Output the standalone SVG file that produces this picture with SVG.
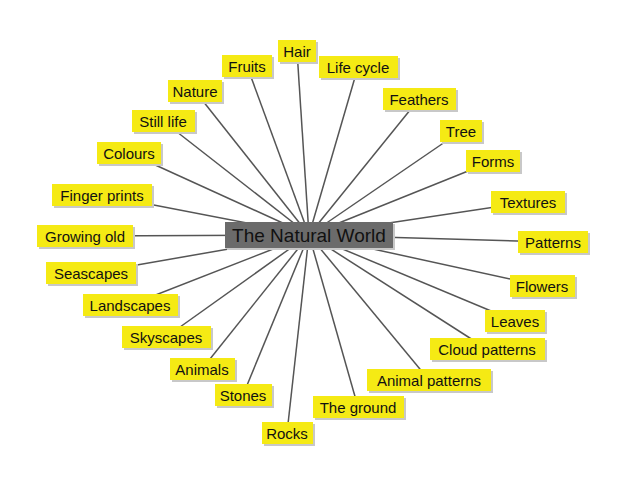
<svg xmlns="http://www.w3.org/2000/svg" width="631" height="489" viewBox="0 0 631 489">
<style>
.c line{stroke:#555;stroke-width:1.5}
.n rect{fill:#f5ea14}
.n rect.s{fill:#c8c8c8}
text{font-family:"Liberation Sans",Arial,sans-serif;font-size:15px;fill:#111;text-anchor:middle;dominant-baseline:central}
</style>
<rect width="631" height="489" fill="#fff"/>
<g class="c">
<line x1="309" y1="235" x2="297" y2="51"/>
<line x1="309" y1="235" x2="247" y2="66"/>
<line x1="309" y1="235" x2="358" y2="67"/>
<line x1="309" y1="235" x2="195" y2="91"/>
<line x1="309" y1="235" x2="419" y2="99"/>
<line x1="309" y1="235" x2="163" y2="121"/>
<line x1="309" y1="235" x2="461" y2="131"/>
<line x1="309" y1="235" x2="129" y2="153"/>
<line x1="309" y1="235" x2="493" y2="161"/>
<line x1="309" y1="235" x2="102" y2="195"/>
<line x1="309" y1="235" x2="528" y2="202"/>
<line x1="309" y1="235" x2="85" y2="236"/>
<line x1="309" y1="235" x2="553" y2="242"/>
<line x1="309" y1="235" x2="91" y2="273"/>
<line x1="309" y1="235" x2="542" y2="286"/>
<line x1="309" y1="235" x2="130" y2="305"/>
<line x1="309" y1="235" x2="515" y2="321"/>
<line x1="309" y1="235" x2="166" y2="337"/>
<line x1="309" y1="235" x2="487" y2="349"/>
<line x1="309" y1="235" x2="202" y2="369"/>
<line x1="309" y1="235" x2="429" y2="380"/>
<line x1="309" y1="235" x2="243" y2="395"/>
<line x1="309" y1="235" x2="358" y2="407"/>
<line x1="309" y1="235" x2="287" y2="433"/>
</g>
<g id="center"><rect x="227" y="224" width="168" height="26" fill="#c8c8c8"/><rect x="225" y="222" width="168" height="26" fill="#6b6b6b"/><text x="309" y="235" style="font-size:19px">The Natural World</text></g>
<g class="n">
<g id="hair"><rect class="s" x="280" y="42" width="38" height="22"/><rect x="278" y="40" width="38" height="22"/><text x="297" y="51">Hair</text></g>
<g id="fruits"><rect class="s" x="224" y="57" width="50" height="22"/><rect x="222" y="55" width="50" height="22"/><text x="247" y="66">Fruits</text></g>
<g id="lifecycle"><rect class="s" x="321" y="58" width="79" height="22"/><rect x="319" y="56" width="79" height="22"/><text x="358" y="67">Life cycle</text></g>
<g id="nature"><rect class="s" x="170" y="82" width="54" height="22"/><rect x="168" y="80" width="54" height="22"/><text x="195" y="91">Nature</text></g>
<g id="feathers"><rect class="s" x="385" y="90" width="73" height="22"/><rect x="383" y="88" width="73" height="22"/><text x="419" y="99">Feathers</text></g>
<g id="stilllife"><rect class="s" x="134" y="112" width="63" height="22"/><rect x="132" y="110" width="63" height="22"/><text x="163" y="121">Still life</text></g>
<g id="tree"><rect class="s" x="442" y="122" width="42" height="22"/><rect x="440" y="120" width="42" height="22"/><text x="461" y="131">Tree</text></g>
<g id="colours"><rect class="s" x="99" y="144" width="64" height="22"/><rect x="97" y="142" width="64" height="22"/><text x="129" y="153">Colours</text></g>
<g id="forms"><rect class="s" x="468" y="152" width="54" height="22"/><rect x="466" y="150" width="54" height="22"/><text x="493" y="161">Forms</text></g>
<g id="fingerprints"><rect class="s" x="54" y="186" width="100" height="22"/><rect x="52" y="184" width="100" height="22"/><text x="102" y="195">Finger prints</text></g>
<g id="textures"><rect class="s" x="493" y="193" width="74" height="22"/><rect x="491" y="191" width="74" height="22"/><text x="528" y="202">Textures</text></g>
<g id="growingold"><rect class="s" x="39" y="227" width="96" height="22"/><rect x="37" y="225" width="96" height="22"/><text x="85" y="236">Growing old</text></g>
<g id="patterns"><rect class="s" x="520" y="233" width="70" height="22"/><rect x="518" y="231" width="70" height="22"/><text x="553" y="242">Patterns</text></g>
<g id="seascapes"><rect class="s" x="48" y="264" width="90" height="22"/><rect x="46" y="262" width="90" height="22"/><text x="91" y="273">Seascapes</text></g>
<g id="flowers"><rect class="s" x="512" y="277" width="65" height="22"/><rect x="510" y="275" width="65" height="22"/><text x="542" y="286">Flowers</text></g>
<g id="landscapes"><rect class="s" x="85" y="296" width="95" height="22"/><rect x="83" y="294" width="95" height="22"/><text x="130" y="305">Landscapes</text></g>
<g id="leaves"><rect class="s" x="487" y="312" width="60" height="22"/><rect x="485" y="310" width="60" height="22"/><text x="515" y="321">Leaves</text></g>
<g id="skyscapes"><rect class="s" x="124" y="328" width="89" height="22"/><rect x="122" y="326" width="89" height="22"/><text x="166" y="337">Skyscapes</text></g>
<g id="cloudpatterns"><rect class="s" x="432" y="340" width="115" height="22"/><rect x="430" y="338" width="115" height="22"/><text x="487" y="349">Cloud patterns</text></g>
<g id="animals"><rect class="s" x="172" y="360" width="65" height="22"/><rect x="170" y="358" width="65" height="22"/><text x="202" y="369">Animals</text></g>
<g id="animalpatterns"><rect class="s" x="369" y="371" width="124" height="22"/><rect x="367" y="369" width="124" height="22"/><text x="429" y="380">Animal patterns</text></g>
<g id="stones"><rect class="s" x="217" y="386" width="57" height="22"/><rect x="215" y="384" width="57" height="22"/><text x="243" y="395">Stones</text></g>
<g id="theground"><rect class="s" x="315" y="398" width="91" height="22"/><rect x="313" y="396" width="91" height="22"/><text x="358" y="407">The ground</text></g>
<g id="rocks"><rect class="s" x="264" y="424" width="51" height="22"/><rect x="262" y="422" width="51" height="22"/><text x="287" y="433">Rocks</text></g>
</g>
</svg>
